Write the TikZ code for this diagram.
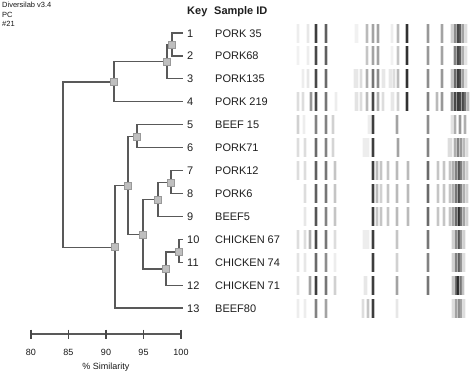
\documentclass[tikz,border=0pt]{standalone}
\usepackage{fontspec}
\setmainfont{Liberation Sans}
\newcommand{\gellane}[2]{\foreach \bx/\bw/\bg in {#2} {\fill[black!\bg,opacity=0.28] (\bx-\bw/2-1,#1-9.5) rectangle (\bx+\bw/2+1,#1+9.5);\fill[black!\bg,opacity=0.85] (\bx-\bw/2,#1-9.5) rectangle (\bx+\bw/2,#1+9.5);}}
\begin{document}
\begin{tikzpicture}[x=1pt,y=-1pt,
  dline/.style={draw=black!65,line width=1.2pt},
  sq/.style={rectangle,minimum size=7pt,inner sep=0pt,fill=black!25,draw=black!40,line width=0.6pt},
  lab/.style={anchor=base west,inner sep=0pt,text=black!88,font=\fontsize{11}{13}\selectfont},
  hdr/.style={anchor=base west,inner sep=0pt,text=black!88,font=\fontsize{11}{13}\selectfont\bfseries},
  small/.style={anchor=base west,inner sep=0pt,text=black!90,font=\fontsize{7.5}{9}\selectfont},
  scl/.style={anchor=base,inner sep=0pt,text=black!90,font=\fontsize{9}{11}\selectfont}]
\useasboundingbox (0,0) rectangle (474,372);
\fill[white] (0,0) rectangle (474,372);
% header texts
\node[small] (t1) at (2,8) {Diversilab v3.4};
\node[small] (t2) at (2,17) {PC};
\node[small] (t3) at (2,26) {\#21};
\node[hdr] (hkey) at (187,14) {Key};
\node[hdr] (hsid) at (214,14) {Sample ID};
% rows
\foreach \i/\name in {1/PORK 35,2/PORK68,3/PORK135,4/PORK 219,5/BEEF 15,6/PORK71,7/PORK12,8/PORK6,9/BEEF5,10/CHICKEN 67,11/CHICKEN 74,12/CHICKEN 71,13/BEEF80}{
  \pgfmathsetmacro{\ry}{33+(\i-1)*22.92}
  \coordinate (l\i) at (183,\ry);
  \node[lab] (k\i) at (187,\ry+4) {\i};
  \node[lab] (s\i) at (215,\ry+4) {\name};
}
% internal nodes
\coordinate (nA) at (172,44.5);
\coordinate (nB) at (167,61.8);
\coordinate (nC) at (114,82);
\coordinate (nD) at (137,136.5);
\coordinate (nE) at (171,182.5);
\coordinate (nF) at (158,199.8);
\coordinate (nG) at (179,252);
\coordinate (nH) at (166,269);
\coordinate (nI) at (143,234.4);
\coordinate (nJ) at (128,185.4);
\coordinate (nK) at (115,247.2);
\coordinate (nR) at (63,164.6);
\foreach \p/\c in {nR/nC,nR/nK,nC/nB,nC/l4,nB/nA,nB/l3,nA/l1,nA/l2,nK/nJ,nK/l13,nJ/nD,nJ/nI,nD/l5,nD/l6,nI/nF,nI/nH,nF/nE,nF/l9,nE/l7,nE/l8,nH/nG,nH/l12,nG/l10,nG/l11}
  \draw[dline] (\p) |- (\c);
\foreach \n in {A,B,C,D,E,F,G,H,I,J,K}
  \node[sq] (q\n) at (n\n) {};
% scale bar
\coordinate (b80) at (31,334);
\coordinate (b100) at (181,334);
\draw[draw=black!65,line width=2.8pt] (b80) -- (b100);
\foreach \v/\xx in {80/31,85/68.5,90/106,95/143.5,100/181}{
  \draw[draw=black!72,line width=1.3pt] (\xx,329.5) -- (\xx,338.5);
  \node[scl] (v\v) at (\xx,355) {\v};
}
\node[scl] (simlab) at (106,369) {\% Similarity};
% gel lanes
\gellane{33}{298/2/8,308/2/10,316/2/85,326/2/70,356/3/6,367/2/30,373/2/40,378/2/40,392/2/8,398/2/30,407/2/90,428/2/45,442/2/40,452/2/20,455/2/50,457.5/2/80,460/2/70,462.5/2/40,466/2/15}
\gellane{55.92}{298/2/6,308/2/8,316/2/80,326/2/70,367/2/25,373/2/40,378/2/40,392/2/6,398/2/25,407/2/90,428/2/45,442/2/40,455/2/55,457.5/2/80,460/2/70,462.5/2/35,466/2/12}
\gellane{78.84}{303/2/8,308/2/10,316/2/80,326/2/65,356/4/10,361/2/15,367/2/35,373/2/60,378/2/50,383/3/10,390/3/10,394/2/15,398/2/30,407/2/90,428/2/50,442/2/45,452/2/25,455/2/65,457.5/2/85,460/2/75,462.5/2/40,466/2/15}
\gellane{101.76}{298/2/15,303/2/15,311/2/45,316/2/80,326/2/60,336/2/8,356/3/12,361/2/15,367/2/30,373/2/80,378/2/35,383/2/15,392/3/10,398/2/20,407/2/90,428/2/55,437/2/30,442/2/45,452/2/50,455/2/80,457.5/2/85,460/2/80,462.5/2/80,465/2/60,467.5/2/30}
\gellane{124.68}{298/2/20,304/2/8,316/2/55,326/2/55,333/2/20,369/3/8,373/2/85,397/2/40,428/2/50,452/2/12,455/2/35,460/2/45,465/2/35}
\gellane{147.6}{298/2/15,305/2/15,316/2/65,326/2/55,333/2/18,366/6/8,373/2/85,398/2/40,428/2/55,450/4/15,455/2/35,458/2/55,461/2/45,464/2/30,467/2/15}
\gellane{170.52}{298/2/15,305/2/15,316/2/70,326/2/60,335/2/25,373/2/85,377/2/30,381/2/25,388/2/25,397/2/30,408/2/30,428/2/65,438/2/25,444/2/25,450/2/25,453/2/35,456/2/55,458.5/2/75,461/2/55,464/2/35,467/2/20}
\gellane{193.44}{305/2/15,316/2/70,326/2/60,335/2/25,373/2/85,377/2/30,381/2/20,388/2/25,397/2/30,408/2/30,428/2/65,438/2/25,444/2/25,450/2/25,453/2/35,456/2/60,458.5/2/80,461/2/55,464/2/35,467/2/20}
\gellane{216.36}{305/2/10,316/2/75,326/2/55,335/2/25,373/2/85,377/2/25,381/2/25,388/2/25,397/2/30,408/2/30,428/2/65,438/2/25,444/2/25,450/2/25,453/2/40,456/2/65,458.5/2/92,461/2/60,464/2/40,467/2/20}
\gellane{239.28}{298/2/15,305/2/15,310/2/35,316/2/80,326/2/60,335/2/15,366/6/8,373/2/85,397/2/25,428/2/60,453/2/20,456/2/50,458.5/2/75,461/2/45,464/2/20}
\gellane{262.2}{298/2/12,305/2/10,316/2/65,326/2/50,335/2/8,373/2/85,397/2/20,428/2/55,453/2/20,456/2/55,458.5/2/70,461/2/45,464/2/15}
\gellane{285.12}{298/2/12,310/2/40,316/2/85,326/2/60,335/2/20,365/3/10,373/2/85,397/2/40,428/2/60,453/2/25,456/2/60,458/2/90,460.5/2/60,463/2/25}
\gellane{308.04}{298/2/8,305/2/8,316/2/55,326/2/40,363/2/15,368/2/25,373/2/85,397/2/10,453/2/15,456/2/40,458.5/2/50,461/2/40,464/2/15}
\end{tikzpicture}
\end{document}
